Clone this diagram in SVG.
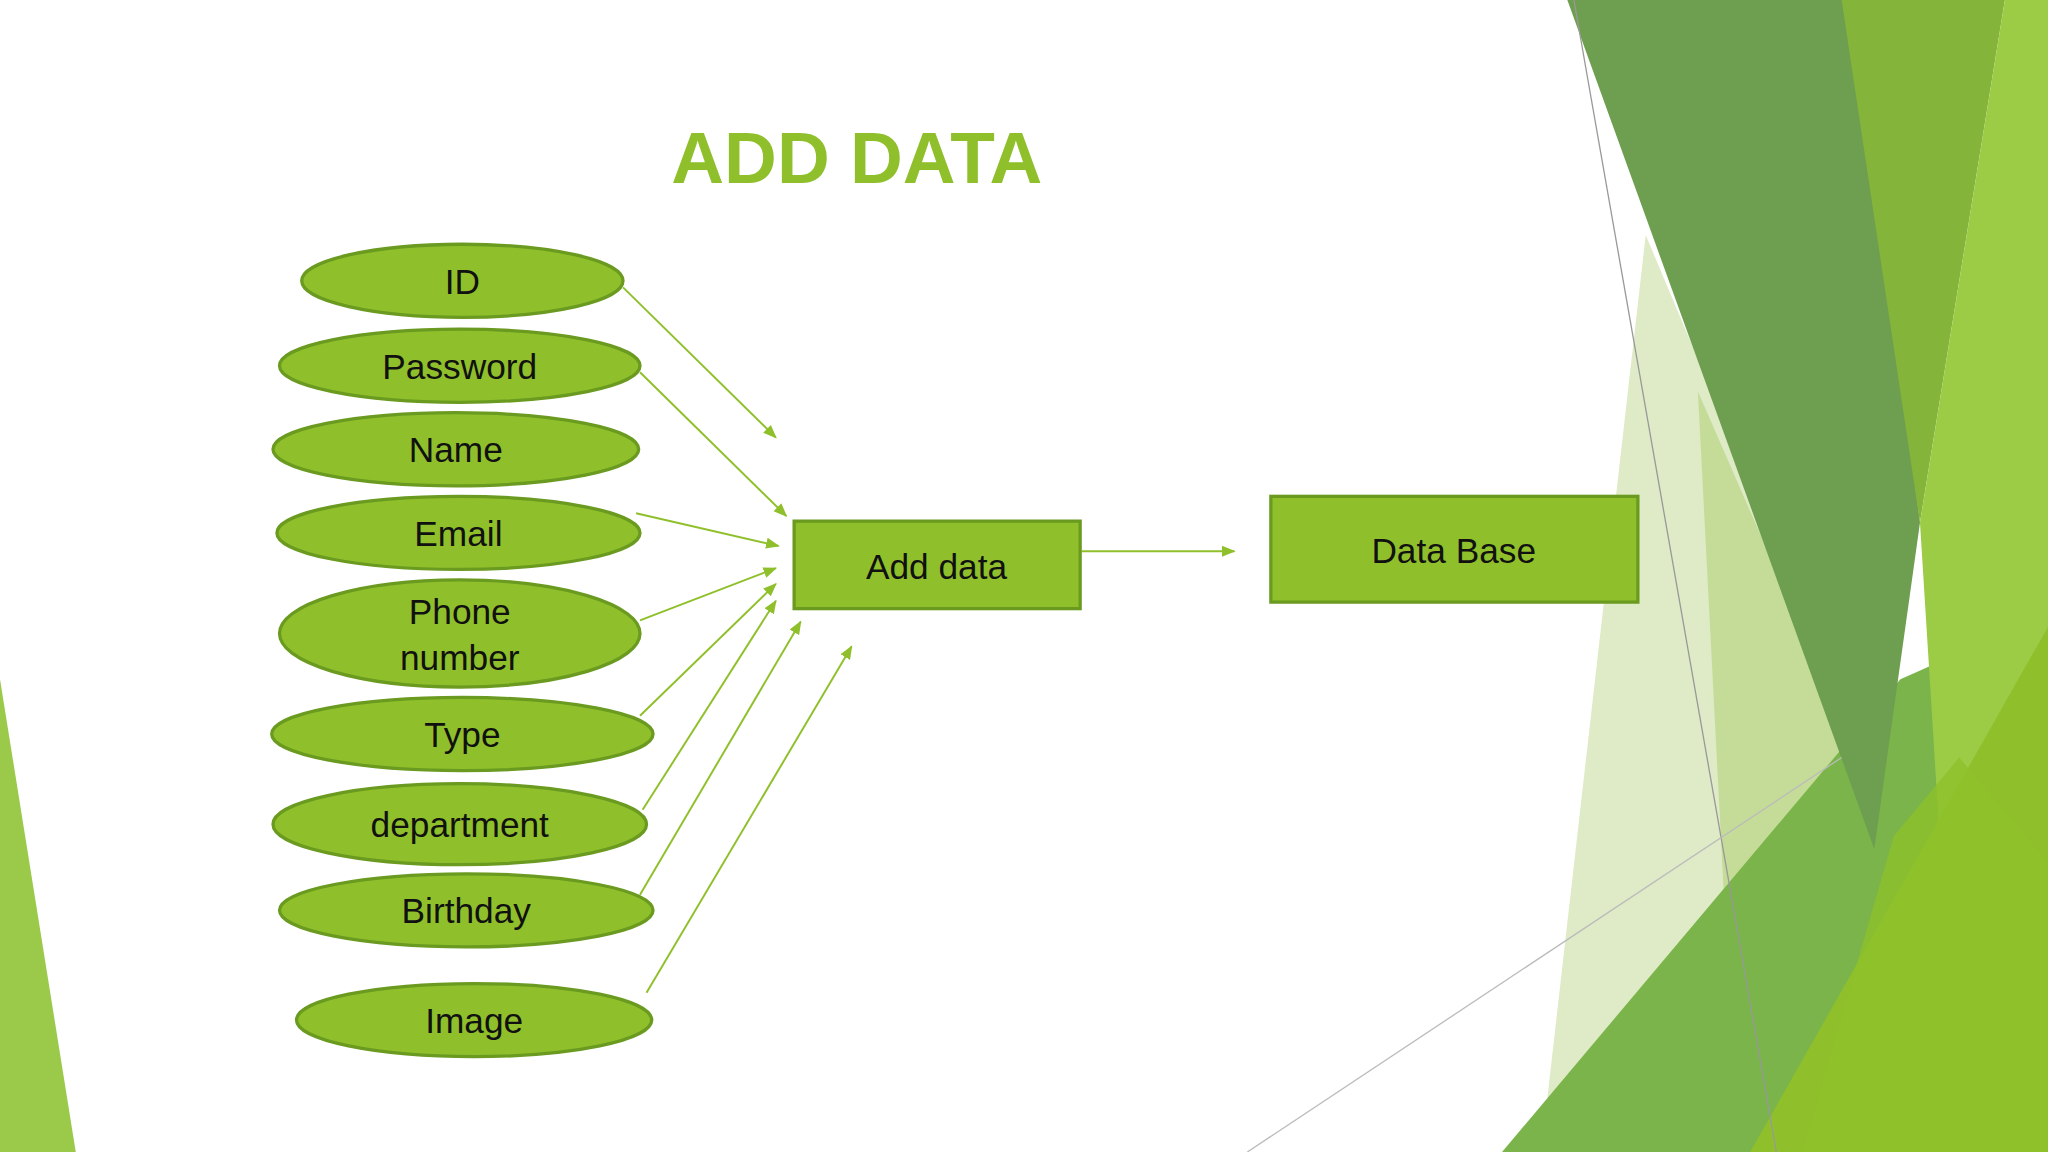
<svg xmlns="http://www.w3.org/2000/svg" width="2048" height="1152" viewBox="0 0 2048 1152">
<defs>
<style>
.n ellipse{fill:#8fc02b;stroke:#6a9a1f;stroke-width:2.5}
.n rect{fill:#8fc02b;stroke:#6a9a1f;stroke-width:2.5}
.n text{font-family:"Liberation Sans","DejaVu Sans",sans-serif;font-size:27px;fill:#111;text-anchor:middle}
.c line{stroke:#8fc02b;stroke-width:1.5;marker-end:url(#a)}
</style>
<marker id="a" viewBox="0 0 10 10" refX="9" refY="5" markerWidth="7" markerHeight="7" orient="auto"><path d="M0,1L10,5L0,9z" fill="#8fc02b"/></marker>
</defs>
<rect width="2048" height="1152" fill="#fff"/>
<g transform="scale(1.30612)">
<g id="bg">
<polygon points="0,520 58,882 0,882" fill="#9bc94a"/>
<polygon points="1260,180 1420,560 1370,882 1180,882" fill="#dfeac6"/>
<polygon points="1300,300 1440,620 1420,882 1330,882" fill="#c4dc98"/>
<polygon points="1150,882 1455,520 1568,470 1568,882" fill="#7ab44a"/>
<polygon points="1200,0 1420,0 1470,400 1435,650" fill="#6e9e4f"/>
<polygon points="1410,0 1535,0 1470,400" fill="#84b53a"/>
<polygon points="1535,0 1568,0 1568,882 1500,882 1470,400" fill="#9ccb45"/>
<polygon points="1340,882 1568,480 1568,882" fill="#8fc02b"/>
<polygon points="1380,882 1450,640 1500,580 1568,660 1568,882" fill="#8fc02b" opacity="0.8"/>
<line x1="1205" y1="0" x2="1360" y2="882" stroke="#999" stroke-width="1"/>
<line x1="955" y1="882" x2="1410" y2="580" stroke="#bbb" stroke-width="1"/>
</g>
<text x="656" y="140" font-family="Liberation Sans,DejaVu Sans,sans-serif" font-weight="bold" font-size="56" fill="#8fc02b" text-anchor="middle">ADD DATA</text>
<g class="c">
<line x1="477" y1="220" x2="594" y2="335"/>
<line x1="490" y1="285" x2="602" y2="395"/>
<line x1="487" y1="393" x2="596" y2="418"/>
<line x1="490" y1="475" x2="594" y2="435"/>
<line x1="490" y1="548" x2="594" y2="447"/>
<line x1="492" y1="620" x2="594" y2="460"/>
<line x1="490" y1="685" x2="613" y2="476"/>
<line x1="495" y1="760" x2="652" y2="495"/>
<line x1="828" y1="422" x2="945" y2="422"/>
</g>
<g id="id" class="n"><ellipse cx="354" cy="215" rx="123" ry="28"/><text x="354" y="225">ID</text></g>
<g id="password" class="n"><ellipse cx="352" cy="280" rx="138" ry="28"/><text x="352" y="290">Password</text></g>
<g id="name" class="n"><ellipse cx="349" cy="344" rx="140" ry="28"/><text x="349" y="354">Name</text></g>
<g id="email" class="n"><ellipse cx="351" cy="408" rx="139" ry="28"/><text x="351" y="418">Email</text></g>
<g id="phone" class="n"><ellipse cx="352" cy="485" rx="138" ry="41"/><text x="352" y="478">Phone</text><text x="352" y="513">number</text></g>
<g id="type" class="n"><ellipse cx="354" cy="562" rx="146" ry="28"/><text x="354" y="572">Type</text></g>
<g id="department" class="n"><ellipse cx="352" cy="631" rx="143" ry="31"/><text x="352" y="641">department</text></g>
<g id="birthday" class="n"><ellipse cx="357" cy="697" rx="143" ry="28"/><text x="357" y="707">Birthday</text></g>
<g id="image" class="n"><ellipse cx="363" cy="781" rx="136" ry="28"/><text x="363" y="791">Image</text></g>
<g id="adddata" class="n"><rect x="608" y="399" width="219" height="67"/><text x="717" y="443">Add data</text></g>
<g id="database" class="n"><rect x="973" y="380" width="281" height="81"/><text x="1113" y="431">Data Base</text></g>
</g>
</svg>
